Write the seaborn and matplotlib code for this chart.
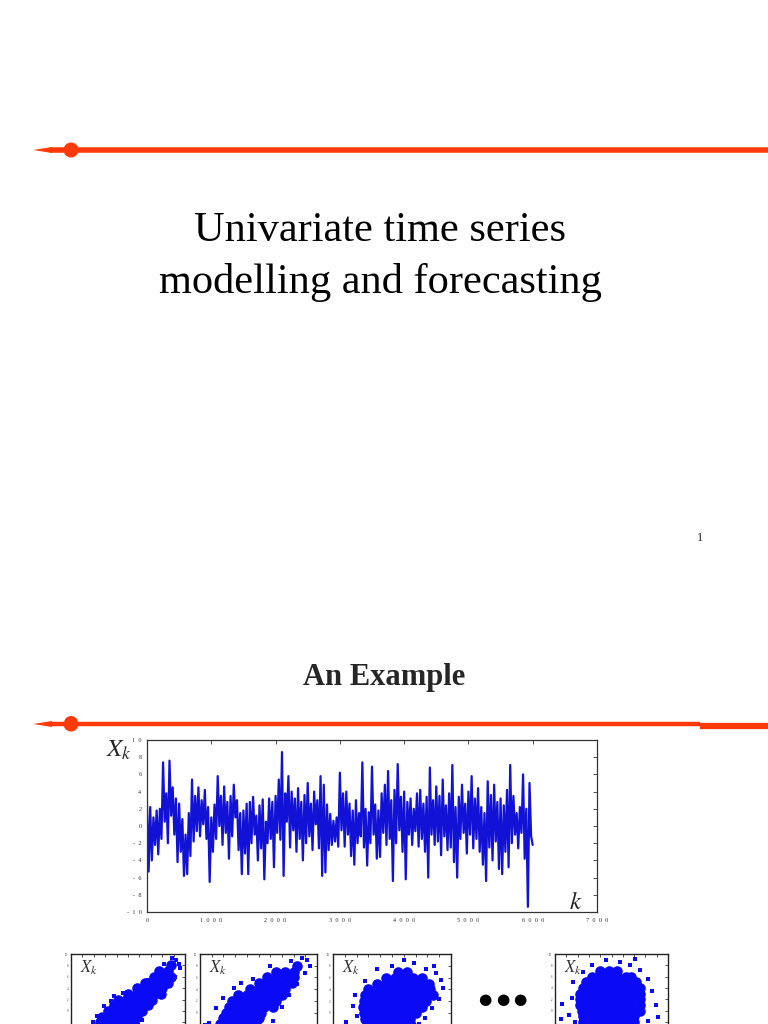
import matplotlib
matplotlib.use("Agg")
import matplotlib.pyplot as plt
import seaborn as sns
import pandas as pd
from matplotlib.lines import Line2D
from matplotlib.patches import Circle, Polygon, Wedge

# ---- data ----
step = 25  # one value every 25 samples, k = 0 .. 6000
series_x = [
    2.4, -5.3, 2.2, -4.0, 1.0, -2.2, 1.8, -3.3, 2.0, -1.5,
    7.4, 0.5, 3.8, -2.0, 7.6, 1.2, 4.5, -1.0, 3.2, -4.2,
    2.6, -3.0, 0.8, -5.8, -1.0, -5.6, 1.5, -3.5, 5.4, -1.8,
    3.5, -0.6, 4.5, -1.2, 3.0, 0.2, 4.2, -1.5, 2.2, -6.5,
    1.0, -3.0, 2.5, -1.5, 5.8, 0.0, 3.5, -2.2, 4.6, -0.8,
    2.8, -3.8, 3.5, -1.2, 4.8, 1.0, 3.0, -2.8, 1.5, -5.6,
    1.8, -3.2, 2.6, -5.6, 2.8, -2.0, 3.4, -1.0, 1.2, -4.0,
    2.4, -2.6, 3.1, -6.2, 0.5, -2.0, 3.2, -1.5, 2.8, -4.8,
    3.5, -0.8, 5.4, -1.6, 8.6, -5.8, 3.8, 0.5, 5.8, -2.5,
    4.0, -0.5, 3.2, -3.0, 4.4, -1.5, 2.8, -4.0, 3.6, -2.0,
    5.0, -1.2, 2.6, -2.8, 4.0, 0.2, 3.0, -2.6, 5.8, -5.8,
    4.8, -5.4, 2.5, -2.8, 1.4, -2.2, 0.6, -1.8, 1.0, -2.4,
    6.2, -0.5, 3.8, -2.4, 4.0, -1.0, 2.6, -3.5, 1.8, -4.5,
    3.0, -2.0, 1.5, -1.2, 7.4, -2.5, 2.0, -4.6, 1.6, -2.0,
    6.9, -1.0, 2.5, -3.8, 1.8, -3.6, 3.8, -0.8, 4.8, -2.2,
    6.4, -1.5, 3.0, -6.4, 4.2, -2.0, 7.2, -0.5, 3.4, -3.0,
    4.0, -6.2, 2.8, -1.0, 3.2, -2.2, 2.0, -0.6, 3.8, -2.4,
    4.2, -1.5, 2.6, -3.0, 3.4, -6.0, 6.8, -1.0, 3.0, -2.2,
    4.6, -1.8, 3.5, -3.4, 5.4, -1.2, 2.4, -2.8, 3.8, -2.5,
    7.1, -4.2, 2.2, -6.0, 3.4, -1.5, 4.8, -0.8, 2.6, -3.2,
    4.0, -1.0, 5.8, -2.6, 3.2, -1.5, 4.4, -3.0, 2.2, -4.5,
    1.5, -6.4, 5.2, -2.5, 3.6, -4.0, 4.8, -1.8, 2.8, -5.0,
    3.2, -5.6, 2.4, -3.0, 4.2, -4.8, 7.1, -2.0, 3.5, -1.0,
    1.5, -2.6, 2.2, -0.8, 6.0, -3.8, 2.0, -9.4, 5.0, -1.2,
    -2.2,
]
series_k = [i * step for i in range(len(series_x))]

x_ticks = [0, 1000, 2000, 3000, 4000, 5000, 6000, 7000]
y_ticks = [-10, -8, -6, -4, -2, 0, 2, 4, 6, 8, 10]

# lag plots: dense core + scattered outer points
lag1_core_x = [7.5, 5.5, 7.0, 4.5, 6.0, 7.5, 3.0, 4.5, 6.0, 7.0, 1.5, 3.0, 4.5, 6.0,
               0.0, 1.5, 3.0, 4.5, 5.8, -1.8, -0.3, 1.2, 2.7, 4.2, -2.5, -1.0, 0.5, 2.0, 3.5,
               -3.5, -2.0, -0.5, 1.0, 2.5, -4.5, -3.0, -1.5, 0.0, 1.5, -5.0, -3.5, -2.0, -0.5, 1.0,
               -5.5, -4.0, -2.5, -1.0, 0.5]
lag1_core_y = [8, 7, 7, 6, 6, 6, 5, 5, 5, 5, 4, 4, 4, 4,
               3, 3, 3, 3, 3, 2, 2, 2, 2, 2, 1, 1, 1, 1, 1,
               0, 0, 0, 0, 0, -1, -1, -1, -1, -1, -2, -2, -2, -2, -2,
               -3, -3, -3, -3, -3]
lag1_out_x = [8.5, 8.9, 7.8, 9.2, 6.3, 5.0, 8.2, 3.5, 6.8, -0.8, 4.2, -3.0, -4.2, 3.0,
              -5.5, 2.4, -6.2, 1.8, -2.5, 7.5]
lag1_out_y = [9.0, 8.3, 9.3, 7.6, 8.2, 6.8, 6.0, 5.5, 4.3, 3.2, 1.8, 1.8, 0.8, -0.2,
              -0.8, -1.6, -2.0, -2.5, 2.6, 5.2]

lag2_core_x = [6.5, 3.0, 4.5, 6.0, 1.5, 3.0, 4.5, 6.0, 0.0, 1.5, 3.0, 4.5, 5.8,
               -1.5, 0.0, 1.5, 3.0, 4.5, -3.5, -2.0, -0.5, 1.0, 2.5, 4.0,
               -4.5, -3.0, -1.5, 0.0, 1.5, 3.0, -5.0, -3.5, -2.0, -0.5, 1.0, 2.5,
               -5.5, -4.0, -2.5, -1.0, 0.5, -6.0, -4.5, -3.0, -1.5, 0.0,
               -6.5, -5.0, -3.5, -2.0, -0.5, -7.0, -5.5, -4.0, -2.5, -1.0]
lag2_core_y = [8, 7, 7, 7, 6, 6, 6, 6, 5, 5, 5, 5, 5,
               4, 4, 4, 4, 4, 3, 3, 3, 3, 3, 3,
               2, 2, 2, 2, 2, 2, 1, 1, 1, 1, 1, 1,
               0, 0, 0, 0, 0, -1, -1, -1, -1, -1,
               -2, -2, -2, -2, -2, -3, -3, -3, -3, -3]
lag2_out_x = [8.3, 7.5, 8.8, 5.5, 7.9, 2.0, 6.5, -1.0, 5.2, -4.2, 4.0, -6.0, -7.2, 2.5,
              -8.5, -9.2, 0.8, -3.0]
lag2_out_y = [9.0, 9.4, 8.0, 8.8, 6.8, 8.0, 4.8, 5.8, 3.0, 4.2, 1.0, 2.5, 0.8, -1.5,
              -1.8, -2.2, -2.5, 5.0]

lag3_core_x = [1.0, 2.5, -1.0, 0.5, 2.0, 3.5, 5.0, -2.5, -1.0, 0.5, 2.0, 3.5, 5.0, 6.3,
               -4.0, -2.5, -1.0, 0.5, 2.0, 3.5, 5.0, 6.5,
               -4.5, -3.0, -1.5, 0.0, 1.5, 3.0, 4.5, 6.0, 7.0,
               -4.8, -3.3, -1.8, -0.3, 1.2, 2.7, 4.2, 5.7,
               -5.0, -3.5, -2.0, -0.5, 1.0, 2.5, 4.0, 5.0,
               -4.8, -3.3, -1.8, -0.3, 1.2, 2.7, 4.0,
               -4.5, -3.0, -1.5, 0.0, 1.5, 3.0, -4.0, -2.5, -1.0, 0.5, 2.0, 3.2,
               -3.5, -2.0, -0.5, 1.0, 2.5]
lag3_core_y = [7, 7, 6, 6, 6, 6, 6, 5, 5, 5, 5, 5, 5, 5,
               4, 4, 4, 4, 4, 4, 4, 4,
               3, 3, 3, 3, 3, 3, 3, 3, 3,
               2, 2, 2, 2, 2, 2, 2, 2,
               1, 1, 1, 1, 1, 1, 1, 1,
               0, 0, 0, 0, 0, 0, 0,
               -1, -1, -1, -1, -1, -1, -2, -2, -2, -2, -2, -2,
               -3, -3, -3, -3, -3]
lag3_out_x = [2.0, 3.8, 5.8, 7.5, 8.3, 8.6, 8.0, 6.8, 5.6, 4.5, -2.5, -4.5, -6.3, -6.6,
              -6.0, -7.8, 0.0, 7.2]
lag3_out_y = [9.0, 8.4, 7.4, 6.8, 5.6, 4.2, 2.4, 0.8, -0.8, -1.8, 7.4, 5.5, 3.0, 1.2,
              -0.5, -1.5, 8.0, 8.0]

lag4_core_x = [-2.0, -0.5, 1.0, -3.5, -2.0, -0.5, 1.0, 2.5, 3.5,
               -4.5, -3.0, -1.5, 0.0, 1.5, 3.0, 4.3,
               -5.0, -3.5, -2.0, -0.5, 1.0, 2.5, 4.0, 5.0,
               -5.5, -4.0, -2.5, -1.0, 0.5, 2.0, 3.5, 5.0,
               -5.5, -4.0, -2.5, -1.0, 0.5, 2.0, 3.5, 5.0,
               -5.5, -4.0, -2.5, -1.0, 0.5, 2.0, 3.5, 5.0,
               -5.3, -3.8, -2.3, -0.8, 0.7, 2.2, 3.7, 5.0,
               -5.0, -3.5, -2.0, -0.5, 1.0, 2.5, 4.0,
               -5.0, -3.5, -2.0, -0.5, 1.0, 2.5, 4.0,
               -4.5, -3.0, -1.5, 0.0, 1.5, 3.0]
lag4_core_y = [7, 7, 7, 6, 6, 6, 6, 6, 6,
               5, 5, 5, 5, 5, 5, 5,
               4, 4, 4, 4, 4, 4, 4, 4,
               3, 3, 3, 3, 3, 3, 3, 3,
               2, 2, 2, 2, 2, 2, 2, 2,
               1, 1, 1, 1, 1, 1, 1, 1,
               0, 0, 0, 0, 0, 0, 0, 0,
               -1, -1, -1, -1, -1, -1, -1,
               -2, -2, -2, -2, -2, -2, -2,
               -3, -3, -3, -3, -3, -3]
lag4_out_x = [-1.0, 1.5, 3.2, -3.5, -5.0, 5.0, 6.5, 7.2, 7.8, 8.2, 6.5, -6.8, -7.0, -8.8,
              -7.5, -9.0, -6.5, 4.2]
lag4_out_y = [9.0, 8.6, 8.0, 8.0, 6.8, 7.2, 5.6, 3.4, 1.0, -1.2, -1.8, 5.0, 2.2, 1.2,
              -0.8, -1.5, -2.0, 9.2]

lag_panels = [
    (lag1_core_x, lag1_core_y, lag1_out_x, lag1_out_y),
    (lag2_core_x, lag2_core_y, lag2_out_x, lag2_out_y),
    (lag3_core_x, lag3_core_y, lag3_out_x, lag3_out_y),
    (lag4_core_x, lag4_core_y, lag4_out_x, lag4_out_y),
]

# ---- figure ----
sns.set_style("white")
plt.rcParams["font.family"] = ["Liberation Serif", "DejaVu Serif"]
plt.rcParams["mathtext.fontset"] = "stix"

W, H = 768, 1024
fig = plt.figure(figsize=(W / 100, H / 100), dpi=100)

orange = "#ff3a0a"
blue_line = "#1212d6"
blue_pts = "#0a0af5"


def frac(x0, y0, w, h):
    # pixel box (top-left origin) -> figure fraction
    return [x0 / W, 1 - (y0 + h) / H, w / W, h / H]


# overlay for slide decorations (pixel coordinates)
deco = fig.add_axes([0, 0, 1, 1])
deco.set_xlim(0, W)
deco.set_ylim(H, 0)
deco.axis("off")


def slide_rule(y, half_dot=False, step_right=False):
    deco.add_patch(Polygon([[33, y], [52, y - 3], [52, y + 3]], closed=True,
                           color=orange, lw=0))
    if step_right:
        deco.add_line(Line2D([50, 700], [y, y], color=orange, lw=3.2, solid_capstyle="butt"))
        deco.add_line(Line2D([700, W], [y + 1.5, y + 1.5], color=orange, lw=4.5,
                             solid_capstyle="butt"))
    else:
        deco.add_line(Line2D([50, W], [y, y], color=orange, lw=4.0, solid_capstyle="butt"))
    if half_dot:
        deco.add_patch(Wedge((71, y), 7.5, 0, 180, color=orange, lw=0))
        deco.add_patch(Circle((71, y - 1), 7.0, color=orange, lw=0))
    else:
        deco.add_patch(Circle((71, y), 7.5, color=orange, lw=0))


slide_rule(150)
slide_rule(724, half_dot=True, step_right=True)

fig.text(380 / W, 1 - 231 / H, "Univariate time series", ha="center", va="center",
         fontsize=30.5, color="black")
fig.text(380 / W, 1 - 283 / H, "modelling and forecasting", ha="center", va="center",
         fontsize=30.5, color="black")
fig.text(700 / W, 1 - 538 / H, "1", ha="center", va="center", fontsize=9)
fig.text(384 / W, 1 - 677 / H, "An Example", ha="center", va="center",
         fontsize=22, fontweight="bold")


def spaced(v):
    s = "  ".join(str(abs(int(v))))
    return ("-  " + s) if v < 0 else s


# main time series
ax = fig.add_axes(frac(147, 740, 450, 172))
df = pd.DataFrame({"k": series_k, "X": series_x})
sns.lineplot(data=df, x="k", y="X", ax=ax, color=blue_line, lw=1.6)
ax.set_xlim(0, 7000)
ax.set_ylim(-10, 10)
ax.set_xticks(x_ticks)
ax.set_xticklabels([spaced(t) for t in x_ticks])
ax.set_yticks(y_ticks)
ax.set_yticklabels([spaced(t) for t in y_ticks])
ax.tick_params(direction="in", length=3, width=0.6, labelsize=4.5, top=True, right=True,
               pad=4, colors="#333333")
ax.set_xlabel("")
ax.set_ylabel("")
for sp in ax.spines.values():
    sp.set_linewidth(0.9)
    sp.set_color("#333333")
fig.text(119 / W, 1 - 750 / H, r"$X_k$", ha="center", va="center", fontsize=18)
fig.text(576 / W, 1 - 903 / H, r"$k$", ha="center", va="center", fontsize=18)

# lag scatter plots
lag_boxes = [(71, 114), (200, 117), (333, 118), (555, 113)]
lag_ticks = [-10, -8, -6, -4, -2, 0, 2, 4, 6, 8, 10]
for (cx, cy, ox, oy), (x0, w) in zip(lag_panels, lag_boxes):
    a = fig.add_axes(frac(x0, 954, w, w))
    sns.scatterplot(x=cx, y=cy, ax=a, color=blue_pts, s=58, marker="o", linewidth=0)
    sns.scatterplot(x=ox, y=oy, ax=a, color=blue_pts, s=6, marker="s", linewidth=0)
    a.set_xlim(-10, 10)
    a.set_ylim(-10, 10)
    a.set_xticks(lag_ticks)
    a.set_yticks(lag_ticks)
    a.set_xticklabels([])
    # only the ticks that stay on the page get a label
    a.set_yticklabels([str(t) if t >= 0 else "" for t in lag_ticks])
    a.tick_params(direction="in", length=2.5, width=0.6, labelsize=2.2, top=True,
                  right=True, pad=2, colors="#333333")
    for sp in a.spines.values():
        sp.set_linewidth(1.0)
        sp.set_color("#222222")
    a.text(0.08, 0.88, r"$X_k$", transform=a.transAxes, fontsize=12, color="#333333",
           ha="left", va="center")

# the three dots between panel 3 and panel 4
for xd in (485, 503, 520):
    fig.text(xd / W, 1 - 999 / H, "\u25cf", ha="center", va="center", fontsize=11,
             color="black", family="DejaVu Sans")

fig.savefig("out.png", dpi=100)
